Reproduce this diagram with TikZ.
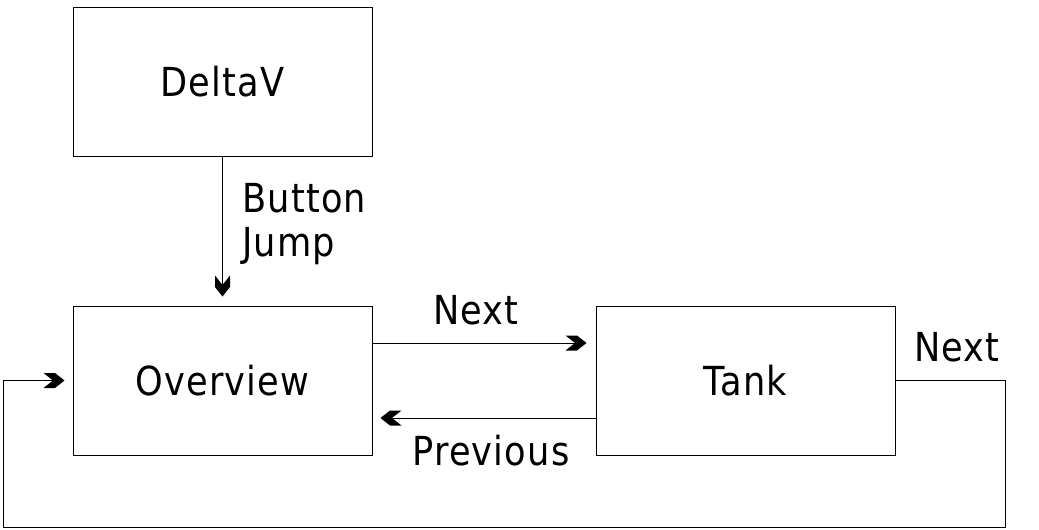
\documentclass[tikz,border=0pt]{standalone}
\usepackage{fontspec}
\setmainfont{DejaVu Sans}[FakeStretch=0.88,LetterSpace=3]
\usetikzlibrary{arrows.meta,calc}
\pgfdeclarearrow{
  name=Chev,
  setup code={%
    \pgfarrowssettipend{0pt}%
    \pgfarrowssetlineend{-10pt}%
    \pgfarrowssetbackend{-21pt}%
    \pgfarrowshullpoint{0pt}{0pt}%
    \pgfarrowsupperhullpoint{-21pt}{7.5pt}%
  },
  drawing code={%
    \pgfpathmoveto{\pgfpoint{0pt}{0pt}}%
    \pgfpathlineto{\pgfpoint{-9.5pt}{7.5pt}}%
    \pgfpathlineto{\pgfpoint{-21pt}{7.5pt}}%
    \pgfpathlineto{\pgfpoint{-11.5pt}{0pt}}%
    \pgfpathlineto{\pgfpoint{-21pt}{-7.5pt}}%
    \pgfpathlineto{\pgfpoint{-9.5pt}{-7.5pt}}%
    \pgfpathclose
    \pgfusepathqfill
  },
}
\begin{document}
\begin{tikzpicture}[x=1pt,y=-1pt,
  box/.style={draw,line width=1pt,minimum width=299pt,minimum height=149pt,inner sep=0pt,font=\fontsize{40}{48}\selectfont},
  lbl/.style={inner sep=0pt,font=\fontsize{40}{44}\selectfont,align=left},
  arr/.style={line width=1pt,-{Chev}},
  ln/.style={line width=1pt}]
\useasboundingbox (0,0) rectangle (1039,530);
\node[box] (dv) at (222.5,81.5) {DeltaV};
\node[box] (ov) at (222.5,380.5) {Overview};
\node[box] (tk) at (745.5,380.5) {Tank};
\node[lbl,anchor=north west] (bj) at (242,183) {Button\\Jump};
\node[lbl] (nx1) at (476,310) {Next};
\node[lbl] (pv) at (491,451) {Previous};
\node[lbl] (nx2) at (957,347) {Next};
\coordinate (c1) at (1005,380.5);
\coordinate (c2) at (1005,527);
\coordinate (c3) at (3,527);
\coordinate (c4) at (3,380.5);
\draw[arr,shorten >=9pt] (dv.south) -- (ov.north);
\draw[arr,shorten >=9pt] (ov.east |- 0,343) -- (tk.west |- 0,343);
\draw[arr,shorten >=8pt] (tk.west |- 0,418) -- (ov.east |- 0,418);
\draw[arr,shorten >=8pt] (tk.east) -- (c1) -- (c2) -- (c3) -- (c4) -- (ov.west);
\end{tikzpicture}
\end{document}
